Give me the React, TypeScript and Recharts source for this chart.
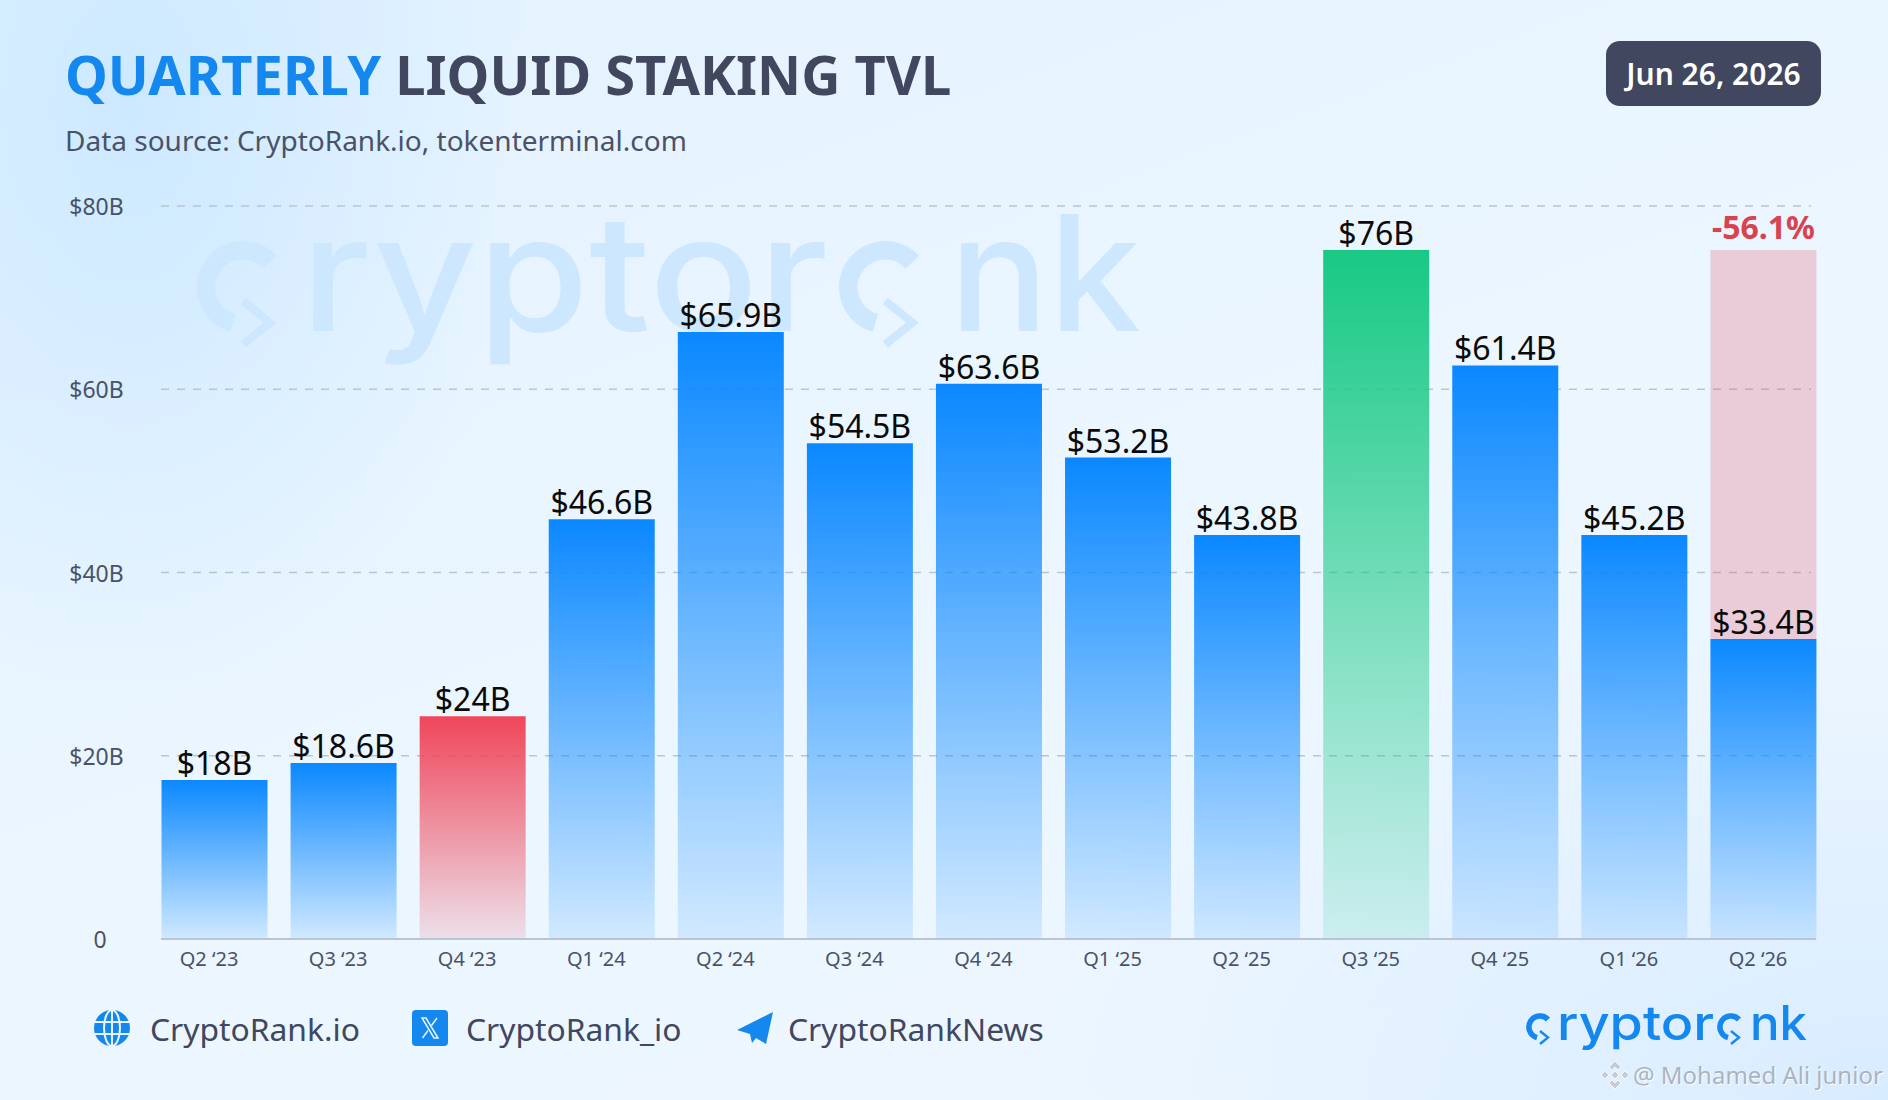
import React from "react";
import { BarChart, Bar, Cell, XAxis, YAxis, CartesianGrid, LabelList } from "recharts";

const quarters = ["Q2 ‘23", "Q3 ‘23", "Q4 ‘23", "Q1 ‘24", "Q2 ‘24", "Q3 ‘24", "Q4 ‘24", "Q1 ‘25", "Q2 ‘25", "Q3 ‘25", "Q4 ‘25", "Q1 ‘26", "Q2 ‘26"];
const barHeights = [17.35, 19.2, 24.3, 45.8, 66.25, 54.1, 60.6, 52.55, 44.1, 75.2, 62.6, 44.1, 32.75];
const valueLabels = ["$18B", "$18.6B", "$24B", "$46.6B", "$65.9B", "$54.5B", "$63.6B", "$53.2B", "$43.8B", "$76B", "$61.4B", "$45.2B", "$33.4B"];
const tones = ["blue", "blue", "red", "blue", "blue", "blue", "blue", "blue", "blue", "green", "blue", "blue", "blue"];
const ghostHeights = [null, null, null, null, null, null, null, null, null, null, null, null, 42.45];
const ghostLabels = ["", "", "", "", "", "", "", "", "", "", "", "", "-56.1%"];
const yTicks = [0, 20, 40, 60, 80];
const footerLinks = ["CryptoRank.io", "CryptoRank_io", "CryptoRankNews"];

const data = quarters.map((q, i) => ({
  q,
  value: barHeights[i],
  label: valueLabels[i],
  ghost: ghostHeights[i],
  ghostLabel: ghostLabels[i],
}));

const FONT = "'Noto Sans', sans-serif";
const BRAND = "#1488ee";
const SLATE = "#40475f";

const YTick = ({ y, payload }: any) => (
  <text
    x={payload.value === 0 ? 100 : 96.5}
    y={y}
    textAnchor="middle"
    dominantBaseline="central"
    fontFamily={FONT}
    fontSize={23}
    fill="#4a5268"
  >
    {payload.value === 0 ? "0" : `$${payload.value}B`}
  </text>
);

const XTick = ({ x, y, payload }: any) => (
  <text x={x - 5} y={y + 11} textAnchor="middle" dominantBaseline="central" fontFamily={FONT} fontSize={20} fill="#4a5268">
    {payload.value}
  </text>
);

const Logo = ({ x, y, width, height, color }: any) => (
  <svg viewBox="0 0 281 45" width={width} height={height} style={{ position: "absolute", left: x, top: y, overflow: "visible" }}>
    <g fill="none" stroke={color} strokeWidth={5.5}>
      <path d="M22 14.5 A11 11 0 1 0 11 32.6" />
      <path d="M14 26 L22 32.5 L14 39" strokeWidth={2.4} />
      <path d="M213 14.5 A11 11 0 1 0 202 32.6" />
      <path d="M205 26 L213 32.5 L205 39" strokeWidth={2.4} />
    </g>
    <g fill={color} fontFamily="Inter, sans-serif" fontWeight={500} fontSize={48}>
      <text x={31} y={35} textLength={157} lengthAdjust="spacingAndGlyphs">ryptor</text>
      <text x={224} y={35} textLength={57} lengthAdjust="spacingAndGlyphs">nk</text>
    </g>
  </svg>
);

const text = (style: any): any => ({ position: "absolute", fontFamily: FONT, whiteSpace: "nowrap", lineHeight: 1, ...style });

export default function App() {
  return (
    <div
      style={{
        position: "absolute",
        left: 0,
        top: 0,
        width: 1888,
        height: 1100,
        overflow: "hidden",
        background:
          "radial-gradient(ellipse 400px 600px at 130px 110px, #cde9ff 0%, rgba(205,233,255,0) 100%), radial-gradient(ellipse 900px 500px at 1888px 1100px, #d8ecff 0%, rgba(216,236,255,0) 100%), linear-gradient(160deg, #e3f2ff 0%, #ebf6ff 50%, #eff7ff 100%)",
      }}
    >
      <Logo x={196} y={213} width={945} height={152} color="#cde7fe" />

      <div style={{ position: "absolute", left: 0, top: 0 }}>
        <BarChart
          width={1888}
          height={1100}
          data={data}
          margin={{ top: 206, left: 0, right: 72, bottom: 0 }}
          barCategoryGap={23}
        >
          <defs>
            <linearGradient id="grad-blue" x1="0" y1="0" x2="0" y2="1">
              <stop offset="0" stopColor="#0b88ff" stopOpacity={1} />
              <stop offset="1" stopColor="#0b88ff" stopOpacity={0.12} />
            </linearGradient>
            <linearGradient id="grad-green" x1="0" y1="0" x2="0" y2="1">
              <stop offset="0" stopColor="#18c984" stopOpacity={1} />
              <stop offset="1" stopColor="#18c984" stopOpacity={0.13} />
            </linearGradient>
            <linearGradient id="grad-red" x1="0" y1="0" x2="0" y2="1">
              <stop offset="0" stopColor="#f0465a" stopOpacity={1} />
              <stop offset="1" stopColor="#f0465a" stopOpacity={0.13} />
            </linearGradient>
          </defs>
          <CartesianGrid
            horizontal
            vertical={false}
            x={161}
            width={1650}
            stroke="#bcc5cd"
            strokeWidth={1.5}
            strokeDasharray="8 8"
          />
          <XAxis
            dataKey="q"
            height={161}
            interval={0}
            padding={{ left: -11.5, right: -11.5 }}
            axisLine={{ stroke: "#b9c4d4", strokeWidth: 2 }}
            tickLine={false}
            tick={<XTick />}
          />
          <YAxis width={161} domain={[0, 80]} ticks={yTicks} axisLine={false} tickLine={false} tick={<YTick />} />
          <Bar dataKey="value" stackId="a" barSize={106} isAnimationActive={false}>
            {data.map((_, i) => (
              <Cell key={i} fill={`url(#grad-${tones[i]})`} />
            ))}
            <LabelList dataKey="label" position="top" fontFamily={FONT} fontSize={32} fill="#0a0a0a" offset={5} />
          </Bar>
          <Bar dataKey="ghost" stackId="a" barSize={106} fill="#e8465a" fillOpacity={0.24} isAnimationActive={false}>
            <LabelList dataKey="ghostLabel" position="top" fontFamily={FONT} fontSize={32} fontWeight={700} fill="#d9434f" offset={11} />
          </Bar>
        </BarChart>
      </div>

      <div style={text({ left: 65, top: 47, fontSize: 54.2, fontWeight: 700, color: SLATE })}>
        <span style={{ color: BRAND }}>QUARTERLY</span> LIQUID STAKING TVL
      </div>
      <div style={text({ left: 65, top: 126, fontSize: 28, color: "#4a5268" })}>Data source: CryptoRank.io, tokenterminal.com</div>

      <div
        style={text({
          left: 1606,
          top: 41,
          width: 215,
          height: 65,
          lineHeight: "65px",
          borderRadius: 14,
          background: SLATE,
          color: "#fff",
          fontSize: 30,
          fontWeight: 600,
          textAlign: "center",
        })}
      >
        Jun 26, 2026
      </div>

      <svg width={36} height={36} viewBox="0 0 36 36" style={{ position: "absolute", left: 94, top: 1010 }}>
        <circle cx={18} cy={18} r={18} fill={BRAND} />
        <g fill="none" stroke="#eaf5ff" strokeWidth={2}>
          <ellipse cx={18} cy={18} rx={8} ry={18} />
          <path d="M18 0 V36 M1 12 H35 M1 24 H35" />
        </g>
      </svg>
      <div style={text({ left: 150, top: 1013, fontSize: 31.8, color: SLATE })}>{footerLinks[0]}</div>

      <svg width={36} height={36} viewBox="0 0 36 36" style={{ position: "absolute", left: 412, top: 1010 }}>
        <rect width={36} height={36} rx={4} fill={BRAND} />
        <path d="M10 8 H14 L26 28 H22 Z" fill="none" stroke="#eaf5ff" strokeWidth={1.5} />
        <path d="M25 8 L19.5 15.5 M16 20.5 L10.5 28" stroke="#eaf5ff" strokeWidth={1.5} />
      </svg>
      <div style={text({ left: 466, top: 1013, fontSize: 31.8, color: SLATE })}>{footerLinks[1]}</div>

      <svg width={36} height={36} viewBox="0 0 36 36" style={{ position: "absolute", left: 737, top: 1010 }}>
        <path d="M0 20 L36 2 L29 34 L19 28 L15 33 L13 24 Z" fill={BRAND} />
      </svg>
      <div style={text({ left: 788, top: 1013, fontSize: 31.8, color: SLATE })}>{footerLinks[2]}</div>

      <Logo x={1526} y={1005} width={281} height={45} color={BRAND} />

      <svg width={30} height={30} viewBox="0 0 30 30" style={{ position: "absolute", left: 1600, top: 1060 }}>
        <g fill="#c6ccd3" stroke="#ffffff" strokeWidth={0.8}>
          <path d="M15 1 L21 7 L18 10 L15 7 L12 10 L9 7 Z" />
          <path d="M15 29 L21 23 L18 20 L15 23 L12 20 L9 23 Z" />
          <path d="M1 15 L5 11 L9 15 L5 19 Z" />
          <path d="M29 15 L25 11 L21 15 L25 19 Z" />
          <path d="M15 11 L19 15 L15 19 L11 15 Z" />
        </g>
      </svg>
      <div
        style={text({
          left: 1633,
          top: 1063,
          fontSize: 24,
          color: "rgba(160,168,178,0.85)",
          textShadow: "1px 1px 0 rgba(255,255,255,0.8)",
        })}
      >
        @ Mohamed Ali junior
      </div>
    </div>
  );
}
